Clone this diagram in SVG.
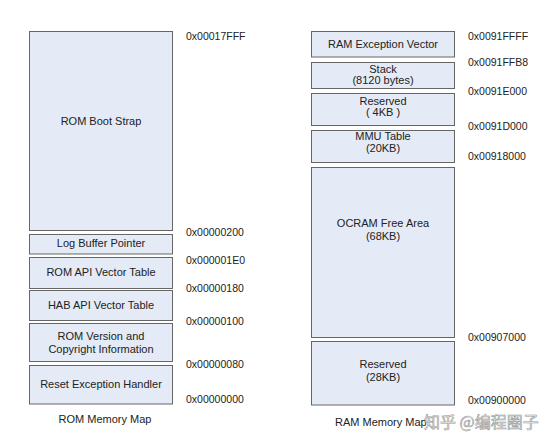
<svg xmlns="http://www.w3.org/2000/svg" width="558" height="447" viewBox="0 0 558 447">
<style>
.box{fill:#e4ebf6;stroke:#666;stroke-width:1}
.t{font-family:"Liberation Sans",Arial,sans-serif;font-size:11px;fill:#222;text-anchor:middle}
.a{font-family:"Liberation Sans",Arial,sans-serif;font-size:10.5px;fill:#222}
.wm{font-family:"Noto Sans CJK SC",sans-serif;font-size:16px;fill:#eeeeee;stroke:#9a9a9a;stroke-width:0.6}
</style>
<rect width="558" height="447" fill="#fff"/>
<g id="rom">
<g id="rom-boot"><rect class="box" x="29.5" y="31.5" width="143" height="199"/><text class="t" x="101" y="125">ROM Boot Strap</text></g>
<g id="log-buffer"><rect class="box" x="29.5" y="234.5" width="143" height="19.5"/><text class="t" x="101" y="247">Log Buffer Pointer</text></g>
<g id="rom-api"><rect class="box" x="29.5" y="257.5" width="143" height="31"/><text class="t" x="101" y="276">ROM API Vector Table</text></g>
<g id="hab-api"><rect class="box" x="29.5" y="290.5" width="143" height="30"/><text class="t" x="101" y="309">HAB API Vector Table</text></g>
<g id="rom-version"><rect class="box" x="29.5" y="323.5" width="143" height="38"/><text class="t" x="101" y="339.5">ROM Version and</text><text class="t" x="101" y="352.5">Copyright Information</text></g>
<g id="reset"><rect class="box" x="29.5" y="365.5" width="143" height="38.5"/><text class="t" x="101" y="388">Reset Exception Handler</text></g>
<text class="t" x="105" y="423">ROM Memory Map</text>
</g>
<g id="rom-addr">
<text class="a" x="186" y="39.5">0x00017FFF</text>
<text class="a" x="186" y="236">0x00000200</text>
<text class="a" x="186" y="264">0x000001E0</text>
<text class="a" x="186" y="291.5">0x00000180</text>
<text class="a" x="186" y="325">0x00000100</text>
<text class="a" x="186" y="368">0x00000080</text>
<text class="a" x="186" y="403">0x00000000</text>
</g>
<g id="ram">
<g id="ram-exc"><rect class="box" x="311.5" y="31.5" width="143" height="25.5"/><text class="t" x="383" y="48">RAM Exception Vector</text></g>
<g id="stack"><rect class="box" x="311.5" y="62.5" width="143" height="26"/><text class="t" x="383" y="72.5">Stack</text><text class="t" x="383" y="84">(8120 bytes)</text></g>
<g id="reserved4"><rect class="box" x="311.5" y="93.5" width="143" height="32"/><text class="t" x="383" y="104.5">Reserved</text><text class="t" x="383" y="116">( 4KB )</text></g>
<g id="mmu"><rect class="box" x="311.5" y="130.5" width="143" height="32"/><text class="t" x="383" y="140">MMU Table</text><text class="t" x="383" y="152">(20KB)</text></g>
<g id="ocram"><rect class="box" x="311.5" y="167.5" width="143" height="170"/><text class="t" x="383" y="227">OCRAM Free Area</text><text class="t" x="383" y="240">(68KB)</text></g>
<g id="reserved28"><rect class="box" x="311.5" y="341.5" width="143" height="63.5"/><text class="t" x="383" y="367.5">Reserved</text><text class="t" x="383" y="380.5">(28KB)</text></g>
<text class="t" x="335" y="425.5" style="text-anchor:start">RAM Memory Map</text>
</g>
<g id="ram-addr">
<text class="a" x="468" y="39.5">0x0091FFFF</text>
<text class="a" x="468" y="66">0x0091FFB8</text>
<text class="a" x="468" y="95">0x0091E000</text>
<text class="a" x="468" y="130">0x0091D000</text>
<text class="a" x="468" y="160">0x00918000</text>
<text class="a" x="468" y="341">0x00907000</text>
<text class="a" x="468" y="404">0x00900000</text>
</g>
<text class="wm" x="424" y="428">知乎 @编程圈子</text>
</svg>
